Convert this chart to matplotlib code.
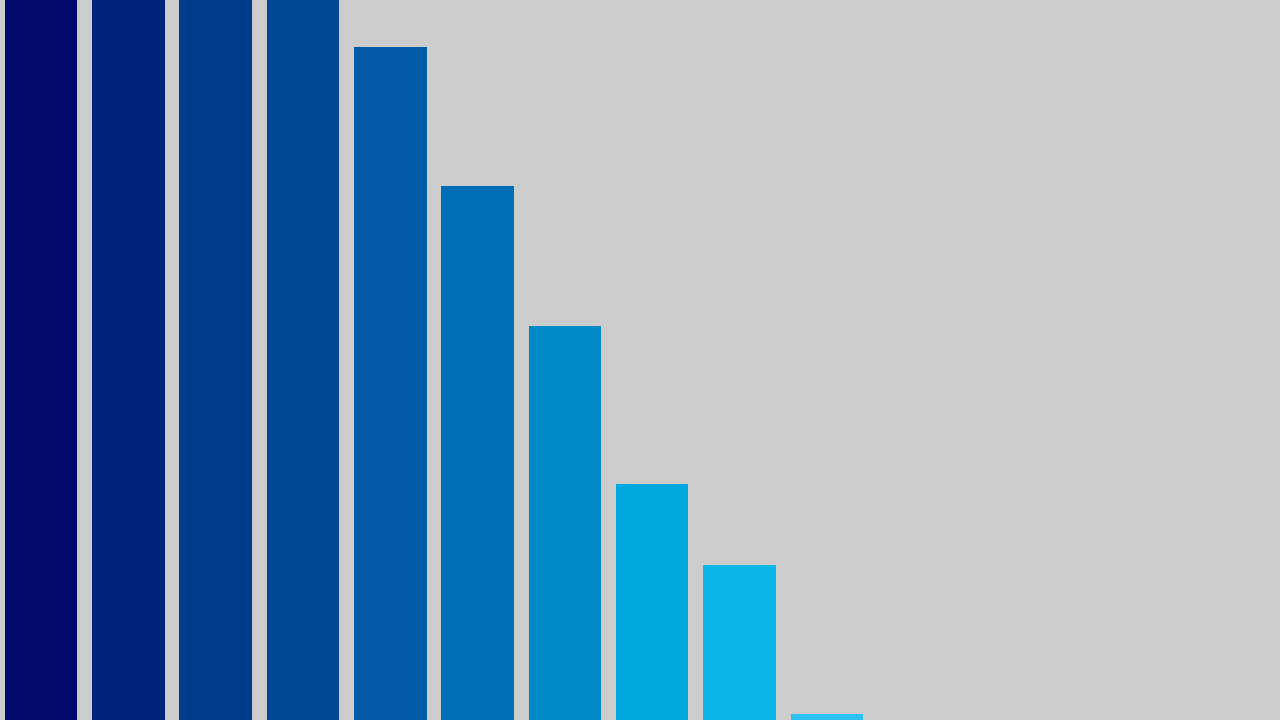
import matplotlib
matplotlib.use("Agg")
import matplotlib.pyplot as plt

# bar heights (the first four run past the top edge)
values = [1230, 1090, 950, 810, 673, 534, 394, 236, 155, 6]
colors = ["#010a6c", "#00227a", "#003a8a", "#004896", "#005aa6",
          "#006eb6", "#008ac8", "#00a8e0", "#0ab6e8", "#2ec2f2"]

fig = plt.figure(figsize=(12.8, 7.2), dpi=100)
fig.patch.set_facecolor("#cccccc")
ax = fig.add_axes([0, 0, 1, 1])
ax.set_facecolor("#cccccc")

ax.bar(range(len(values)), values, width=0.83, color=colors)

ax.set_xlim(-0.47, 14.19)
ax.set_ylim(0, 720)
ax.axis("off")

fig.savefig("out.png", dpi=100, facecolor=fig.get_facecolor())
